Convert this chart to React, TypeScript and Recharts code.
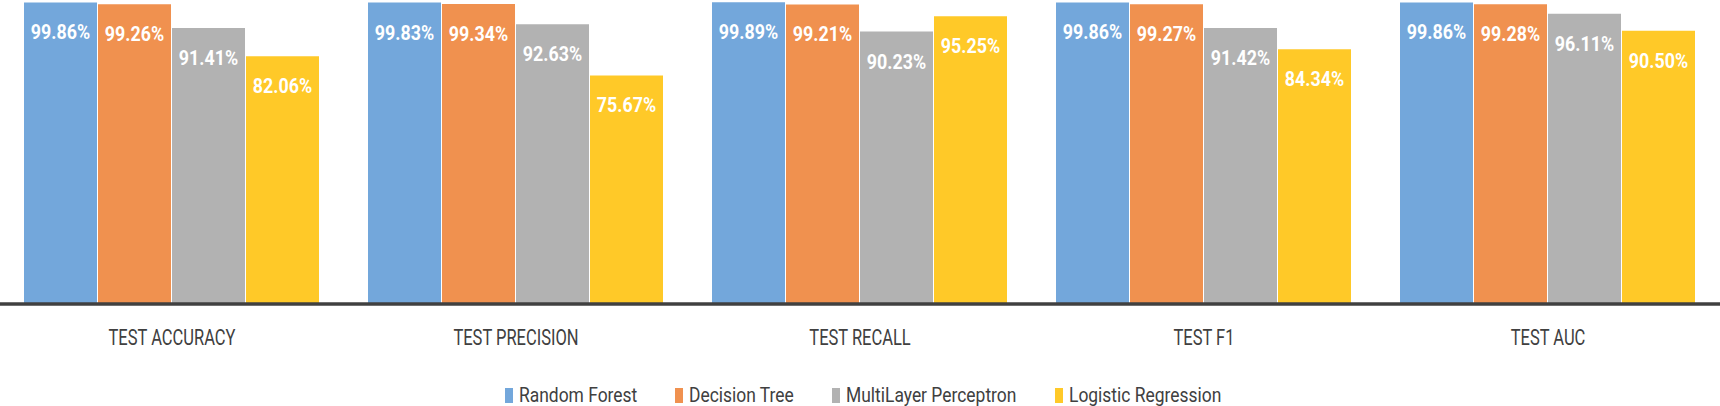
import React from 'react';
import { BarChart, Bar, XAxis, YAxis, Legend, LabelList } from 'recharts';

const categories = ['TEST ACCURACY', 'TEST PRECISION', 'TEST RECALL', 'TEST F1', 'TEST AUC'];
const randomForest = [99.86, 99.83, 99.89, 99.86, 99.86];
const decisionTree = [99.26, 99.34, 99.21, 99.27, 99.28];
const multiLayerPerceptron = [91.41, 92.63, 90.23, 91.42, 96.11];
const logisticRegression = [82.06, 75.67, 95.25, 84.34, 90.5];

const series = [
  { key: 'rf', name: 'Random Forest', color: '#73A7DB' },
  { key: 'dt', name: 'Decision Tree', color: '#F0914F' },
  { key: 'mlp', name: 'MultiLayer Perceptron', color: '#B2B2B2' },
  { key: 'lr', name: 'Logistic Regression', color: '#FFC928' },
];

const data = categories.map((name, i) => ({
  name,
  rf: randomForest[i],
  dt: decisionTree[i],
  mlp: multiLayerPerceptron[i],
  lr: logisticRegression[i],
}));

// no Calibri here, so squeeze Roboto to get the same narrow look
const FONT = 'Roboto, "Noto Sans", sans-serif';

let ctx: CanvasRenderingContext2D | null = null;
const textWidth = (text: string, font: string) => {
  if (!ctx) ctx = document.createElement('canvas').getContext('2d');
  if (!ctx) return text.length * 10;
  ctx.font = font;
  return ctx.measureText(text).width;
};

const BarValue = (props: any) => {
  const { x, y, width, value } = props;
  return (
    <text
      transform={`translate(${x + width / 2}, ${y + 30}) scale(0.85, 1)`}
      textAnchor="middle"
      dominantBaseline="central"
      fill="#ffffff"
      fontFamily={FONT}
      fontWeight="bold"
      fontSize={21}
    >
      {Number(value).toFixed(2)}%
    </text>
  );
};

const CategoryTick = (props: any) => {
  const { x, y, payload } = props;
  return (
    <text
      transform={`translate(${x}, ${y + 34}) scale(0.75, 1)`}
      textAnchor="middle"
      dominantBaseline="central"
      fill="#404040"
      fontFamily={FONT}
      fontSize={22}
    >
      {payload.value}
    </text>
  );
};

const LEGEND_SIZE = 21;
const LEGEND_SQUEEZE = 0.83;

const LegendBox = () => (
  <div
    style={{
      height: 46,
      boxSizing: 'border-box',
      paddingTop: 24,
      paddingLeft: 6,
      display: 'flex',
      justifyContent: 'center',
      alignItems: 'center',
      gap: 38,
      fontFamily: FONT,
      fontSize: LEGEND_SIZE,
      color: '#404040',
    }}
  >
    {series.map((s) => {
      const w = textWidth(s.name, `${LEGEND_SIZE}px Roboto`) * LEGEND_SQUEEZE;
      return (
        <div key={s.key} style={{ display: 'flex', alignItems: 'center', height: 22 }}>
          <span style={{ display: 'inline-block', width: 8, height: 15, background: s.color, marginRight: 6 }} />
          <span style={{ display: 'inline-block', width: w, whiteSpace: 'nowrap' }}>
            <span
              style={{
                display: 'inline-block',
                transform: `scaleX(${LEGEND_SQUEEZE})`,
                transformOrigin: 'left center',
              }}
            >
              {s.name}
            </span>
          </span>
        </div>
      );
    })}
  </div>
);

export default function App() {
  return (
    <div style={{ position: 'absolute', left: 0, top: 0, width: 1720, height: 406, background: '#fff' }}>
      <BarChart
        width={1720}
        height={406}
        data={data}
        margin={{ top: 2, right: 0, left: 0, bottom: 0 }}
        barCategoryGap={24}
        barGap={1}
      >
        <XAxis
          dataKey="name"
          height={56}
          tickLine={false}
          tickSize={0}
          tickMargin={0}
          axisLine={{ stroke: '#404040', strokeWidth: 3.5 }}
          tick={<CategoryTick />}
          interval={0}
        />
        <YAxis hide domain={[0, 100]} />
        <Legend verticalAlign="bottom" content={<LegendBox />} />
        {series.map((s) => (
          <Bar key={s.key} dataKey={s.key} name={s.name} fill={s.color} isAnimationActive={false}>
            <LabelList dataKey={s.key} content={<BarValue />} />
          </Bar>
        ))}
      </BarChart>
    </div>
  );
}
